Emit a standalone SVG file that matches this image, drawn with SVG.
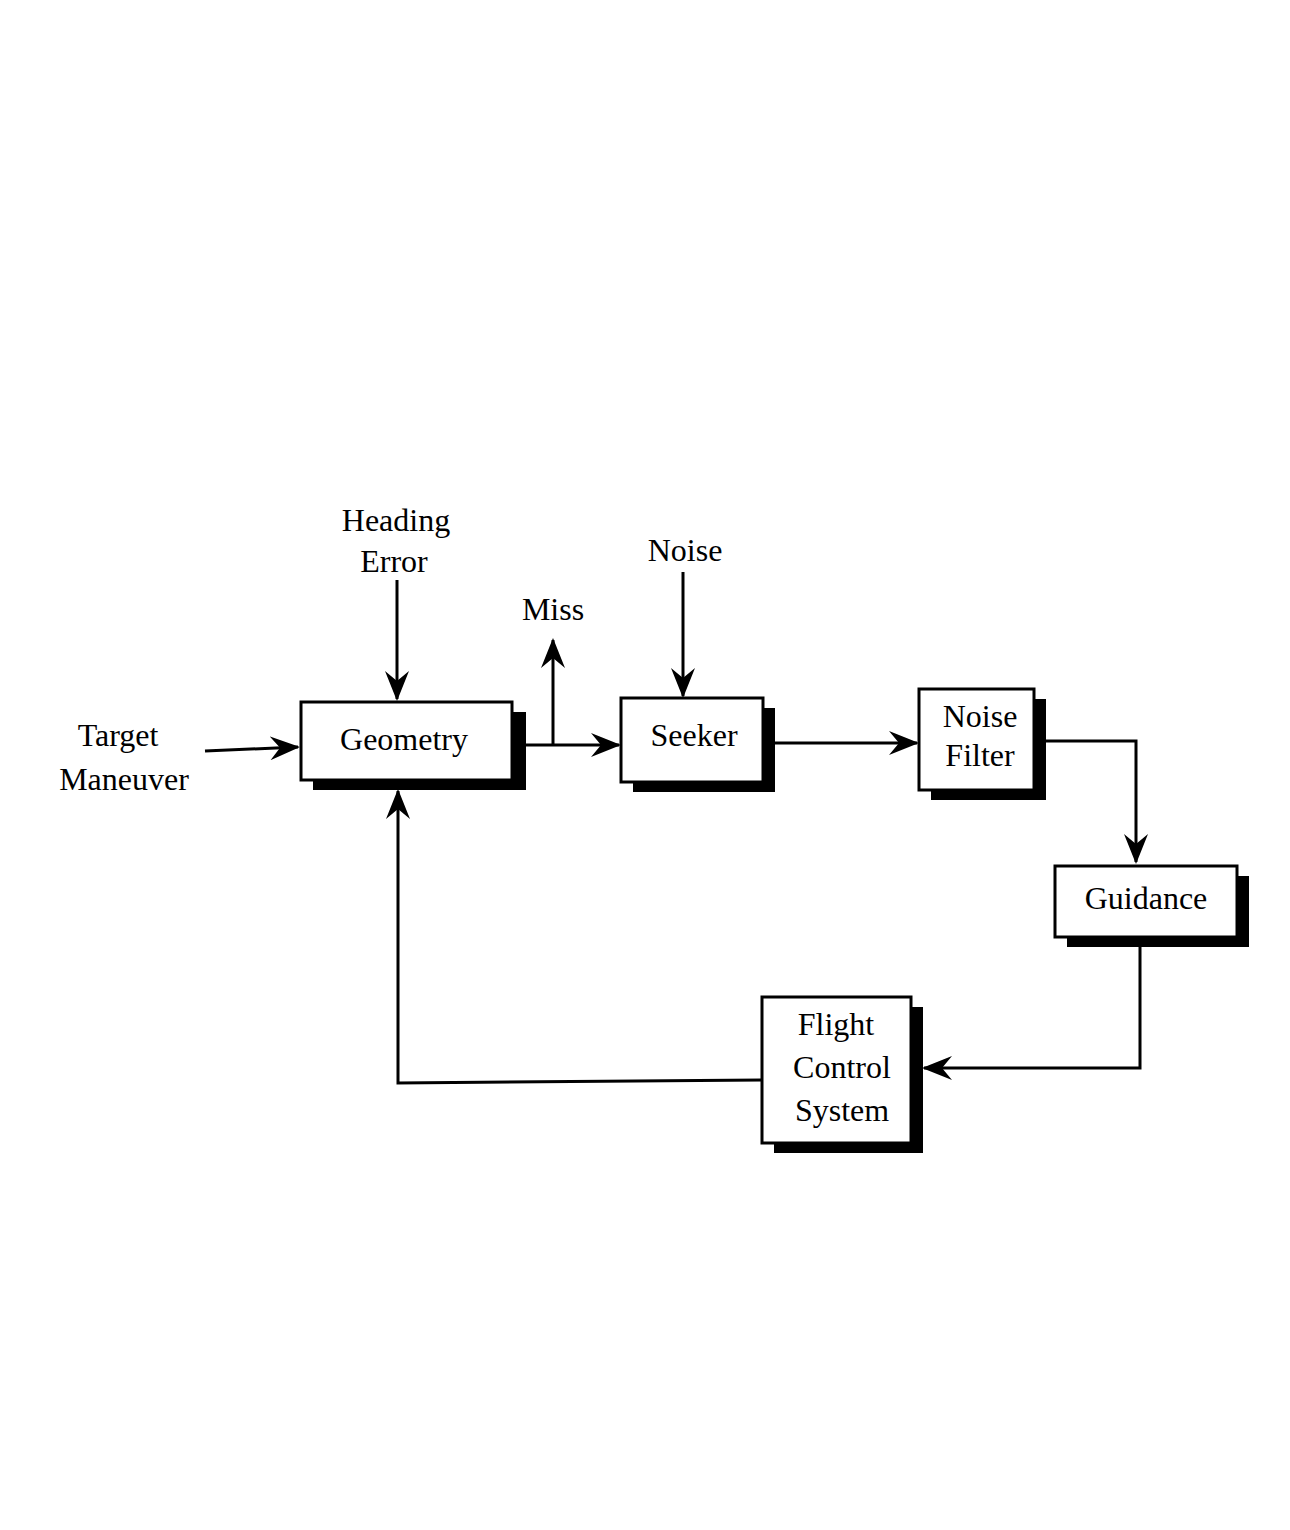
<svg xmlns="http://www.w3.org/2000/svg" width="1290" height="1530" viewBox="0 0 1290 1530">
<style>
.box{fill:#fff;stroke:#000;stroke-width:3}
.sh{fill:#000}
text{font-family:"Liberation Serif",serif;font-size:32px;fill:#000;text-anchor:middle}
.c{fill:none;stroke:#000;stroke-width:3}
</style>
<defs>
<marker id="a" viewBox="0 0 30 24" refX="28" refY="12" markerWidth="30" markerHeight="24" markerUnits="userSpaceOnUse" orient="auto">
<path d="M0,0 L30,12 L0,24 L10,12 Z" fill="#000"/>
</marker>
</defs>
<rect width="1290" height="1530" fill="#fff"/>
<g id="geometry"><rect class="sh" x="313" y="712" width="213" height="78"/><rect class="box" x="301" y="702" width="211" height="78"/><text x="404" y="750">Geometry</text></g>
<g id="seeker"><rect class="sh" x="633" y="708" width="142" height="84"/><rect class="box" x="621" y="698" width="142" height="84"/><text x="694" y="746">Seeker</text></g>
<g id="noisefilter"><rect class="sh" x="931" y="699" width="115" height="101"/><rect class="box" x="919" y="689" width="115" height="101"/><text x="980" y="727">Noise</text><text x="980" y="766">Filter</text></g>
<g id="guidance"><rect class="sh" x="1067" y="876" width="182" height="71"/><rect class="box" x="1055" y="866" width="182" height="71"/><text x="1146" y="909">Guidance</text></g>
<g id="fcs"><rect class="sh" x="774" y="1007" width="149" height="146"/><rect class="box" x="762" y="997" width="149" height="146"/><text x="836" y="1035">Flight</text><text x="842" y="1078">Control</text><text x="842" y="1121">System</text></g>
<g id="labels">
<text x="118" y="746">Target</text><text x="124" y="790">Maneuver</text>
<text x="396" y="531">Heading</text><text x="394" y="572">Error</text>
<text x="553" y="620">Miss</text>
<text x="685" y="561">Noise</text>
</g>
<g id="connectors">
<line class="c" x1="205" y1="751" x2="298" y2="747" marker-end="url(#a)"/>
<line class="c" x1="397" y1="580" x2="397" y2="699" marker-end="url(#a)"/>
<line class="c" x1="524" y1="745" x2="619" y2="745" marker-end="url(#a)"/>
<line class="c" x1="553" y1="745" x2="553" y2="640" marker-end="url(#a)"/>
<line class="c" x1="683" y1="572" x2="683" y2="696" marker-end="url(#a)"/>
<line class="c" x1="775" y1="743" x2="917" y2="743" marker-end="url(#a)"/>
<polyline class="c" points="1046,741 1136,741 1136,862" marker-end="url(#a)"/>
<polyline class="c" points="1140,947 1140,1068 924,1068" marker-end="url(#a)"/>
<polyline class="c" points="762,1080 398,1083 398,791" marker-end="url(#a)"/>
</g>
</svg>
